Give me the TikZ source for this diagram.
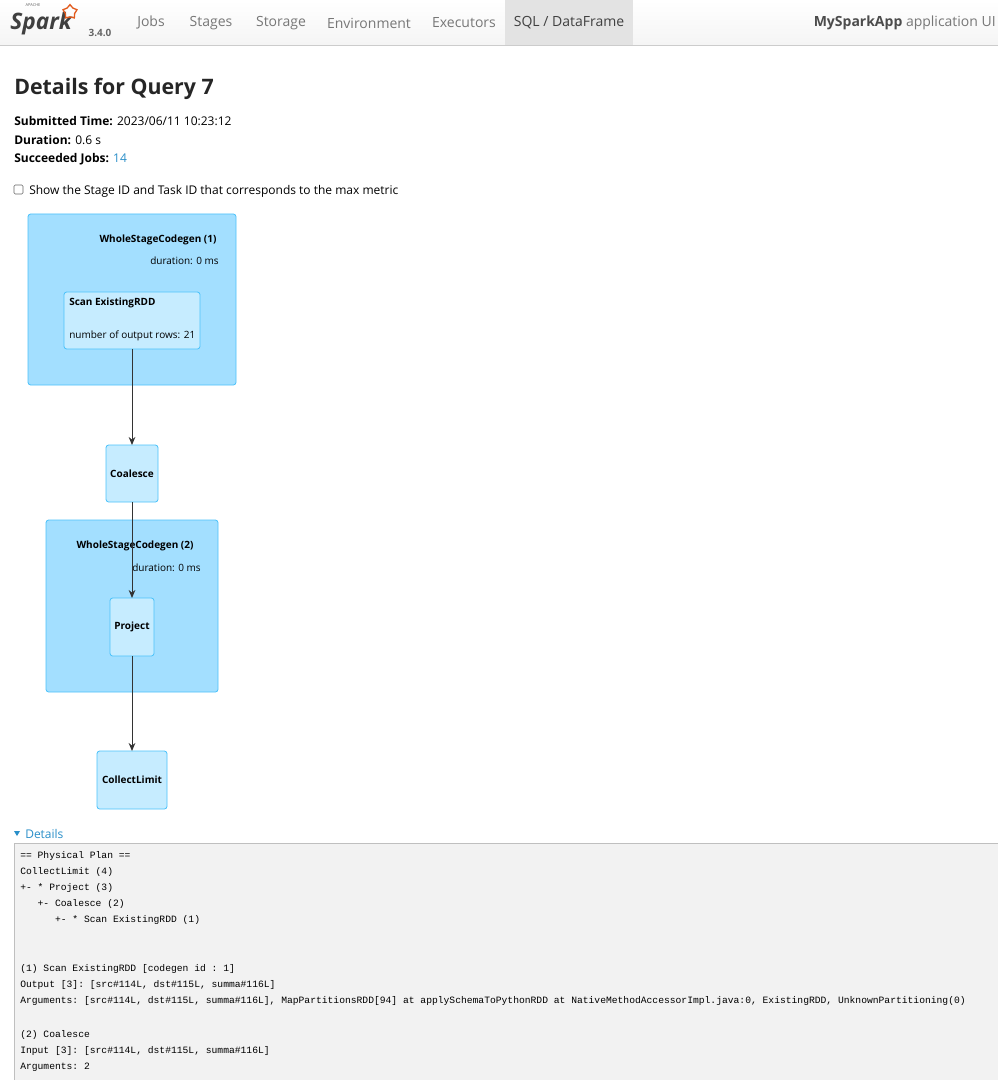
\documentclass[tikz,border=0pt]{standalone}
\usepackage{fontspec}
\setmainfont{Open Sans}
\setmonofont{Liberation Mono}
\usetikzlibrary{positioning,arrows.meta,shapes.geometric}
\definecolor{stagefill}{HTML}{A3DFFF}
\definecolor{stageline}{HTML}{4CC2FA}
\definecolor{opfill}{HTML}{C6ECFF}
\definecolor{sparklink}{HTML}{2A8FC9}
\definecolor{navtext}{HTML}{777777}
\definecolor{codebg}{HTML}{F2F2F2}
\definecolor{sparkorange}{HTML}{E25A1C}
\tikzset{
  stagebox/.style={draw=stageline, fill=stagefill, rounded corners=2pt, line width=0.6pt},
  opbox/.style={draw=stageline, fill=opfill, rounded corners=2pt, line width=0.6pt},
  optext/.style={font=\fontsize{7.5}{9}\selectfont\bfseries, inner sep=0pt},
  metric/.style={font=\fontsize{7.5}{9}\selectfont, inner sep=0pt},
  navitem/.style={font=\fontsize{10.5}{12}\selectfont, text=navtext, inner sep=0pt},
  info/.style={font=\fontsize{9}{11}\selectfont, inner sep=0pt, anchor=west},
  codeline/.style={font=\ttfamily\fontsize{7.25}{9}\selectfont, inner sep=0pt, anchor=west},
  edge/.style={-{Stealth[length=6pt,width=5pt]}, line width=0.7pt, draw=black!80}
}
\begin{document}
\begin{tikzpicture}[x=0.75pt, y=-0.75pt]
\useasboundingbox (0,0) rectangle (998,1080);
\fill[white] (0,0) rectangle (998,1080);
% top bar
\shade[top color=white, bottom color=black!4] (0,0) rectangle (998,45);
\fill[black!11] (505,0) rectangle (633,45);
\draw[black!20] (0,45) -- (998,45);
\node[font=\fontsize{17}{18}\selectfont\itshape\bfseries, text=black!75, inner sep=0pt] (logo) at (41,24) {Spark};
\node[star, star points=5, draw=sparkorange, line width=1pt, minimum size=11pt, inner sep=0pt] (star) at (70,12) {};
\node[font=\fontsize{3}{3}\selectfont, text=black!60, inner sep=0pt] (apache) at (33,5) {APACHE};
\node[font=\fontsize{7.5}{9}\selectfont\bfseries, text=black!60, inner sep=0pt] (version) at (100,33) {3.4.0};
\node[navitem] (jobs) at (151,23) {Jobs};
\node[navitem] (stages) at (211,23) {Stages};
\node[navitem] (storage) at (281,23) {Storage};
\node[navitem] (env) at (369,23) {Environment};
\node[navitem] (exec) at (464,23) {Executors};
\node[navitem, text=black!75] (sql) at (569,23) {SQL / DataFrame};
\node[navitem, anchor=east] (app) at (996,23) {\textbf{\color{black!70}MySparkApp} application UI};
% header info
\node[font=\fontsize{16}{18}\selectfont\bfseries, text=black!85, inner sep=0pt, anchor=west] (title) at (14,89) {Details for Query 7};
\node[info] (submitted) at (14,121) {\textbf{Submitted Time:} 2023/06/11 10:23:12};
\node[info] (duration) at (14,140) {\textbf{Duration:} 0.6 s};
\node[info] (succeeded) at (14,159) {\textbf{Succeeded Jobs:} \textcolor{sparklink}{14}};
\draw[black!60, rounded corners=1pt] (14,185) rectangle (23,194);
\node[info] (maxmetric) at (29,191) {Show the Stage ID and Task ID that corresponds to the max metric};
% plan graph
\draw[stagebox] (28,214) rectangle (236,385);
\node[optext] (wscg1) at (158,240) {WholeStageCodegen (1)};
\node[metric, anchor=east] (dur1) at (219,261) {duration: 0 ms};
\draw[opbox] (64,292) rectangle (200,349);
\node[optext, anchor=west] (scan) at (69,303) {Scan ExistingRDD};
\node[metric, anchor=west] (rows) at (69,336) {number of output rows: 21};
\coordinate (scanout) at (132,349);
\draw[opbox] (106,445) rectangle (158,502);
\node[optext] (coalesce) at (132,474) {Coalesce};
\coordinate (coalescein) at (132,445);
\coordinate (coalesceout) at (132,502);
\draw[stagebox] (46,520) rectangle (218,692);
\node[optext] (wscg2) at (135,546) {WholeStageCodegen (2)};
\node[metric, anchor=east] (dur2) at (201,568) {duration: 0 ms};
\draw[opbox] (110,598) rectangle (154,656);
\node[optext] (project) at (132,627) {Project};
\coordinate (projectin) at (132,598);
\coordinate (projectout) at (132,656);
\draw[opbox] (97,751) rectangle (167,809);
\node[optext] (collect) at (132,780) {CollectLimit};
\coordinate (collectin) at (132,751);
\draw[edge] (scanout) -- (coalescein);
\draw[edge] (coalesceout) -- (projectin);
\draw[edge] (projectout) -- (collectin);
% details
\fill[sparklink] (14,831) -- (20,831) -- (17,836) -- cycle;
\node[info, text=sparklink] (details) at (25,834) {Details};
\draw[black!25, fill=codebg] (14,843) rectangle (1000,1082);
\node[codeline] (l1) at (20,856) {== Physical Plan ==};
\node[codeline] (l2) at (20,872) {CollectLimit (4)};
\node[codeline] (l3) at (20,888) {+- * Project (3)};
\node[codeline] (l4) at (20,904) {\ \ \ +- Coalesce (2)};
\node[codeline] (l5) at (20,920) {\ \ \ \ \ \ +- * Scan ExistingRDD (1)};
\node[codeline] (l6) at (20,969) {(1) Scan ExistingRDD [codegen id : 1]};
\node[codeline] (l7) at (20,985) {Output [3]: [src\#114L, dst\#115L, summa\#116L]};
\node[codeline] (l8) at (20,1001) {Arguments: [src\#114L, dst\#115L, summa\#116L], MapPartitionsRDD[94] at applySchemaToPythonRDD at NativeMethodAccessorImpl.java:0, ExistingRDD, UnknownPartitioning(0)};
\node[codeline] (l9) at (20,1035) {(2) Coalesce};
\node[codeline] (l10) at (20,1051) {Input [3]: [src\#114L, dst\#115L, summa\#116L]};
\node[codeline] (l11) at (20,1067) {Arguments: 2};
\end{tikzpicture}
\end{document}
